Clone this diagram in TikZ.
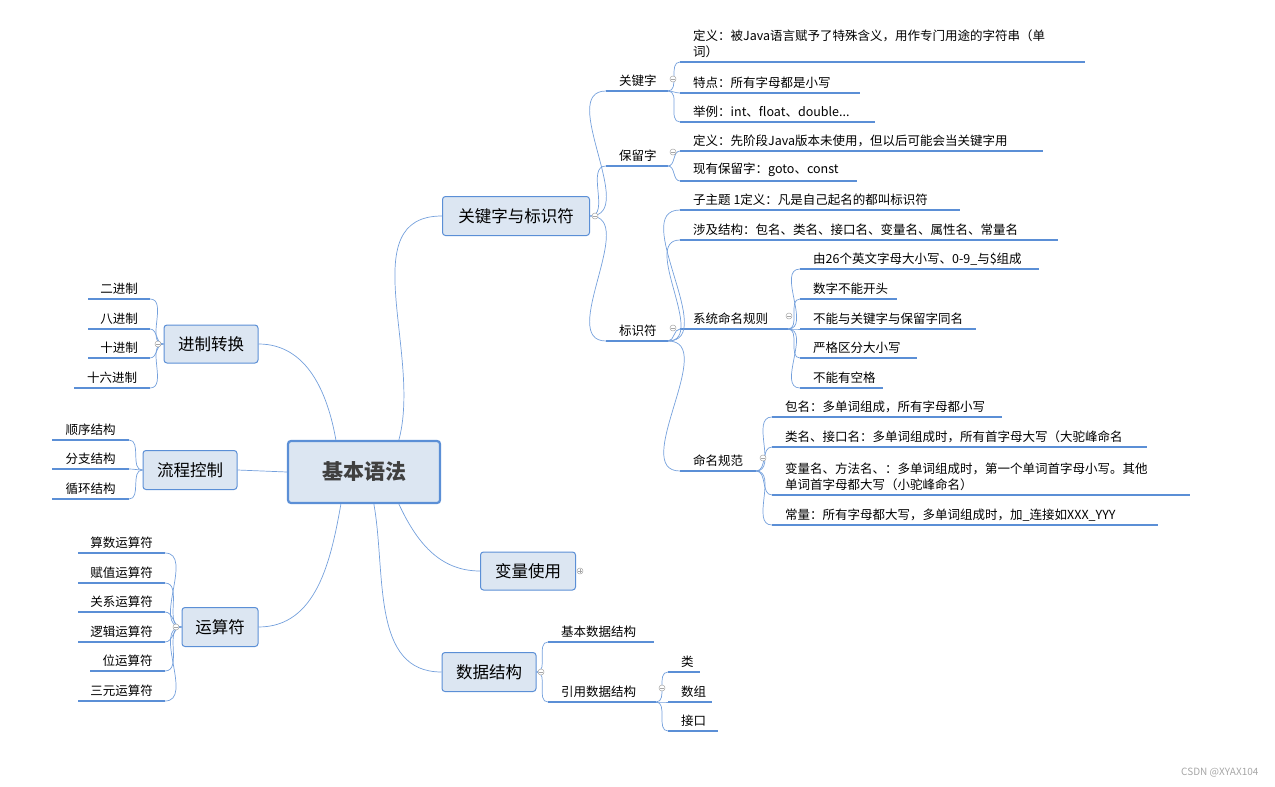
\documentclass[tikz,border=0pt]{standalone}
\usepackage{fontspec}
\setmainfont{Noto Sans CJK SC}
\usetikzlibrary{positioning, calc}
\definecolor{mapline}{HTML}{5B8FD6}
\definecolor{mapfill}{HTML}{DCE6F2}
\tikzset{
  leafline/.style={draw=mapline, line width=1.6pt},
  leaftext/.style={inner sep=1pt, font=\fontsize{12.5}{16}\selectfont},
  conn/.style={draw=mapline!85, line width=0.7pt},
  topic/.style={draw=mapline, fill=mapfill, rounded corners=3pt, line width=1pt, font=\fontsize{16.5}{20}\selectfont, inner sep=0pt},
  mk/.style={draw=gray!70, line width=0.5pt, fill=white}
}
% right hand leaf: name, x start, x end, line y, text
\newcommand\leafR[5]{%
  \coordinate (#1) at (#2,-#4); \coordinate (#1e) at (#3,-#4);
  \draw[leafline] (#1) -- (#1e);
  \node[leaftext, anchor=south west, align=left] (#1t) at (#2+12,-#4+3) {#5};}
% left hand leaf
\newcommand\leafL[5]{%
  \coordinate (#1s) at (#2,-#4); \coordinate (#1) at (#3,-#4);
  \draw[leafline] (#1s) -- (#1);
  \node[leaftext, anchor=south] (#1t) at ({(#2+#3)/2},-#4+3) {#5};}
\newcommand\branchR[2]{\draw[conn] (#1) to[out=0,in=180] (#2);}
\newcommand\branchL[2]{\draw[conn] (#1) to[out=180,in=0] (#2);}
\newcommand\collapse[2]{\draw[mk] (#1,-#2) circle (3); \draw[mk] (#1-1.8,-#2) -- (#1+1.8,-#2);}
\begin{document}
\begin{tikzpicture}[x=1pt,y=1pt]
  \useasboundingbox (0,0) rectangle (1275,-787);
  % main topics
  \node[topic, minimum width=152, minimum height=62, line width=2.2pt, font=\fontsize{21}{24}\selectfont\bfseries, text=black!75] (main) at (364,-472) {基本语法};
  \node[topic, minimum width=147, minimum height=39] (kw) at (516,-216) {关键字与标识符};
  \node[topic, minimum width=94, minimum height=38] (jz) at (211,-344) {进制转换};
  \node[topic, minimum width=94, minimum height=39] (lc) at (190,-470) {流程控制};
  \node[topic, minimum width=76, minimum height=39] (ys) at (220,-627) {运算符};
  \node[topic, minimum width=95, minimum height=38] (bl) at (528,-571) {变量使用};
  \node[topic, minimum width=94, minimum height=39] (sj) at (489,-672) {数据结构};

  \draw[conn] ([xshift=112pt]main.north west) to[out=75,in=180] (kw.west);
  \draw[conn] ([xshift=49pt]main.north west) to[out=100,in=0] (jz.east);
  \draw[conn] (main.west) -- (lc.east);
  \draw[conn] ([xshift=54pt]main.south west) to[out=-100,in=0] (ys.east);
  \draw[conn] ([xshift=112pt]main.south west) to[out=-65,in=180] (bl.west);
  \draw[conn] ([xshift=87pt]main.south west) to[out=-80,in=180] (sj.west);

  % keywords and identifiers
  \leafR{gjz}{606}{668}{91}{关键字}
  \leafR{blz}{606}{668}{166}{保留字}
  \leafR{bsf}{606}{668}{341}{标识符}
  \foreach \c in {gjz,blz,bsf} {\branchR{kw.east}{\c}}

  \leafR{gjz1}{680}{1085}{62}{定义：被Java语言赋予了特殊含义，用作专门用途的字符串（单\\词）}
  \leafR{gjz2}{680}{860}{93}{特点：所有字母都是小写}
  \leafR{gjz3}{680}{875}{122}{举例：int、float、double...}
  \foreach \c in {gjz1,gjz2,gjz3} {\branchR{gjze}{\c}}

  \leafR{blz1}{680}{1043}{151}{定义：先阶段Java版本未使用，但以后可能会当关键字用}
  \leafR{blz2}{680}{857}{181}{现有保留字：goto、const}
  \foreach \c in {blz1,blz2} {\branchR{blze}{\c}}

  \leafR{bsf1}{680}{960}{210}{子主题 1定义：凡是自己起名的都叫标识符}
  \leafR{bsf2}{680}{1058}{240}{涉及结构：包名、类名、接口名、变量名、属性名、常量名}
  \leafR{bsf3}{680}{788}{329}{系统命名规则}
  \leafR{bsf4}{680}{756}{471}{命名规范}
  \foreach \c in {bsf1,bsf2,bsf3,bsf4} {\branchR{bsfe}{\c}}

  \leafR{gz1}{800}{1039}{269}{由26个英文字母大小写、0-9\_与\$组成}
  \leafR{gz2}{800}{897}{299}{数字不能开头}
  \leafR{gz3}{800}{976}{329}{不能与关键字与保留字同名}
  \leafR{gz4}{800}{917}{358}{严格区分大小写}
  \leafR{gz5}{800}{883}{388}{不能有空格}
  \foreach \c in {gz1,gz2,gz3,gz4,gz5} {\branchR{bsf3e}{\c}}

  \leafR{gf1}{772}{1002}{417}{包名：多单词组成，所有字母都小写}
  \leafR{gf2}{772}{1147}{447}{类名、接口名：多单词组成时，所有首字母大写（大驼峰命名}
  \leafR{gf3}{772}{1190}{495}{变量名、方法名、：多单词组成时，第一个单词首字母小写。其他\\单词首字母都大写（小驼峰命名）}
  \leafR{gf4}{772}{1158}{525}{常量：所有字母都大写，多单词组成时，加\_连接如XXX\_YYY}
  \foreach \c in {gf1,gf2,gf3,gf4} {\branchR{bsf4e}{\c}}

  % number systems
  \leafL{jz1}{88}{150}{299}{二进制}
  \leafL{jz2}{88}{150}{329}{八进制}
  \leafL{jz3}{88}{150}{358}{十进制}
  \leafL{jz4}{74}{150}{388}{十六进制}
  \foreach \c in {jz1,jz2,jz3,jz4} {\branchL{jz.west}{\c}}

  % control flow
  \leafL{lc1}{52}{129}{440}{顺序结构}
  \leafL{lc2}{52}{129}{469}{分支结构}
  \leafL{lc3}{52}{129}{499}{循环结构}
  \foreach \c in {lc1,lc2,lc3} {\branchL{lc.west}{\c}}

  % operators
  \leafL{ys1}{78}{165}{553}{算数运算符}
  \leafL{ys2}{78}{165}{583}{赋值运算符}
  \leafL{ys3}{78}{165}{612}{关系运算符}
  \leafL{ys4}{78}{165}{642}{逻辑运算符}
  \leafL{ys5}{90}{165}{671}{位运算符}
  \leafL{ys6}{78}{165}{701}{三元运算符}
  \foreach \c in {ys1,ys2,ys3,ys4,ys5,ys6} {\branchL{ys.west}{\c}}

  % data structures
  \leafR{sj1}{548}{654}{642}{基本数据结构}
  \leafR{sj2}{548}{656}{702}{引用数据结构}
  \foreach \c in {sj1,sj2} {\branchR{sj.east}{\c}}
  \leafR{yy1}{668}{700}{672}{类}
  \leafR{yy2}{668}{712}{702}{数组}
  \leafR{yy3}{668}{718}{731}{接口}
  \foreach \c in {yy1,yy2,yy3} {\branchR{sj2e}{\c}}

  % collapse markers
  \collapse{595}{216} \collapse{673}{79} \collapse{673}{152} \collapse{673}{328}
  \collapse{789}{316} \collapse{763}{458} \collapse{158}{344} \collapse{176}{627}
  \collapse{541}{672} \collapse{662}{688}
  \draw[mk] (580,-571) circle (3); \draw[mk] (578.2,-571) -- (581.8,-571) (580,-569.2) -- (580,-572.8);

  \node[font=\fontsize{10}{12}\selectfont, text=gray!70, anchor=east] (mark) at (1262,-773) {CSDN @XYAX104};
\end{tikzpicture}
\end{document}
